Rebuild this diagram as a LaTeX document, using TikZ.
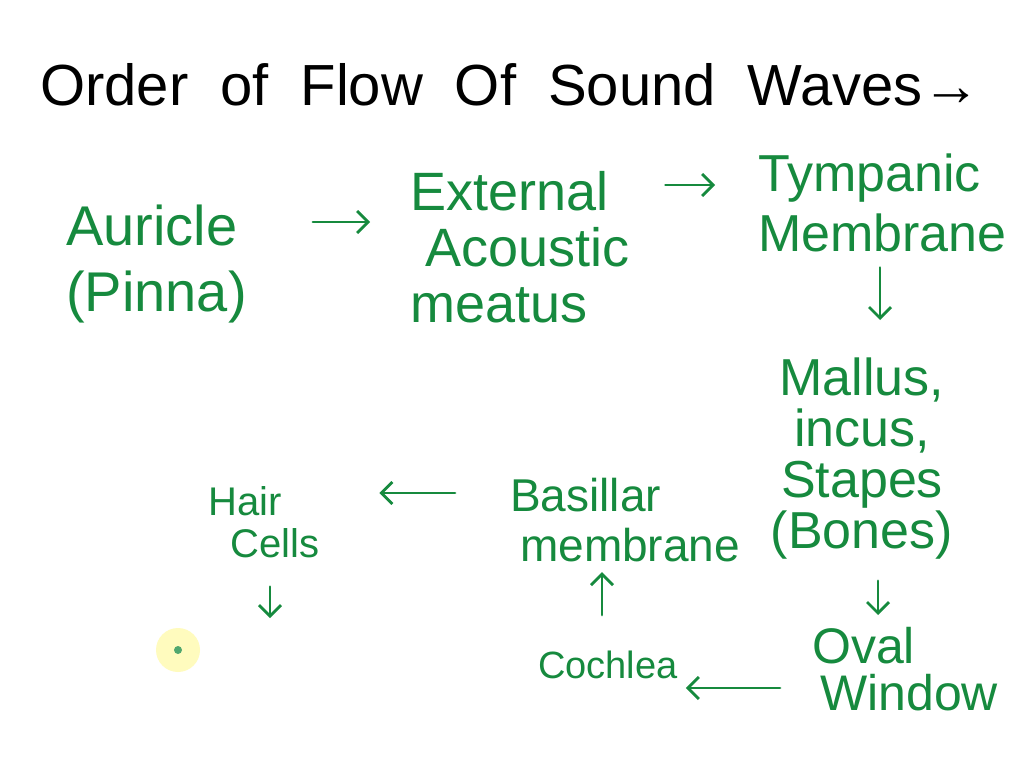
\documentclass[tikz,border=0pt]{standalone}
\usepackage{fontspec}
\setmainfont{Liberation Sans}
\usetikzlibrary{arrows.meta}
\definecolor{ink}{RGB}{22,138,62}
\begin{document}
\begin{tikzpicture}[x=1pt,y=-1pt,
  lbl/.style={text=ink, inner sep=0pt, align=left, anchor=north west},
  arr/.style={draw=ink, line width=2.8pt, line cap=round, line join=round,
    -{Straight Barb[length=11pt,width=22pt,line width=2.8pt]}}]
\fill[white] (0,0) rectangle (1024,768);
\useasboundingbox (0,0) rectangle (1024,768);

% title
\node[inner sep=0pt, anchor=base west, font=\fontsize{58}{70}\selectfont] (title) at (40,105)
  {\spaceskip=0.55em Order of Flow Of Sound Waves→};

% concept nodes
\node[lbl, font=\fontsize{56}{66}\selectfont] (auricle) at (66,205) {Auricle\\(Pinna)};
\node[lbl, font=\fontsize{54}{56}\selectfont] (external) at (410,171) {External\\\hspace*{15pt}Acoustic\\meatus};
\node[lbl, font=\fontsize{52}{60}\selectfont] (tympanic) at (758,154) {Tympanic\\Membrane};
\node[lbl, align=center, anchor=north, font=\fontsize{52}{51}\selectfont] (mallus) at (862,358) {Mallus,\\incus,\\Stapes\\(Bones)};
\node[lbl, font=\fontsize{50}{47}\selectfont] (oval) at (812,627) {Oval\\\hspace*{8pt}Window};
\node[lbl, font=\fontsize{38}{44}\selectfont] (cochlea) at (538,651) {Cochlea};
\node[lbl, font=\fontsize{46}{50}\selectfont] (basillar) at (510,478) {Basillar\\\hspace*{10pt}membrane};
\node[lbl, font=\fontsize{40}{42}\selectfont] (hair) at (208,486) {Hair\\\hspace*{22pt}Cells};
\coordinate (hairout) at (270,618);

% connectors
\draw[arr, shorten <=66pt, shorten >=40pt] (auricle.east |- 0,222) -- (external.west |- 0,222);
\draw[arr, shorten <=36pt, shorten >=43pt] (external.east |- 0,185) -- (tympanic.west |- 0,185);
\draw[arr, shorten <=15pt, shorten >=38pt] (tympanic.south -| 880,0) -- (mallus.north -| 880,0);
\draw[arr, shorten <=21pt, shorten >=12pt] (mallus.south -| 878,0) -- (oval.north -| 878,0);
\draw[arr, shorten <=32pt, shorten >=8pt] (oval.west |- 0,688) -- (cochlea.east |- 0,688);
\draw[arr, shorten <=36pt, shorten >=10pt] (cochlea.north -| 602,0) -- (basillar.south -| 602,0);
\draw[arr, shorten <=55pt, shorten >=60pt] (basillar.west |- 0,493) -- (hair.east |- 0,493);
\draw[arr, shorten <=29pt] (hair.south -| 270,0) -- (hairout);

% pointer dot
\fill[yellow!30, opacity=0.85] (178,650) circle (22);
\fill[ink!75] (178,650) circle (4);
\end{tikzpicture}
\end{document}
